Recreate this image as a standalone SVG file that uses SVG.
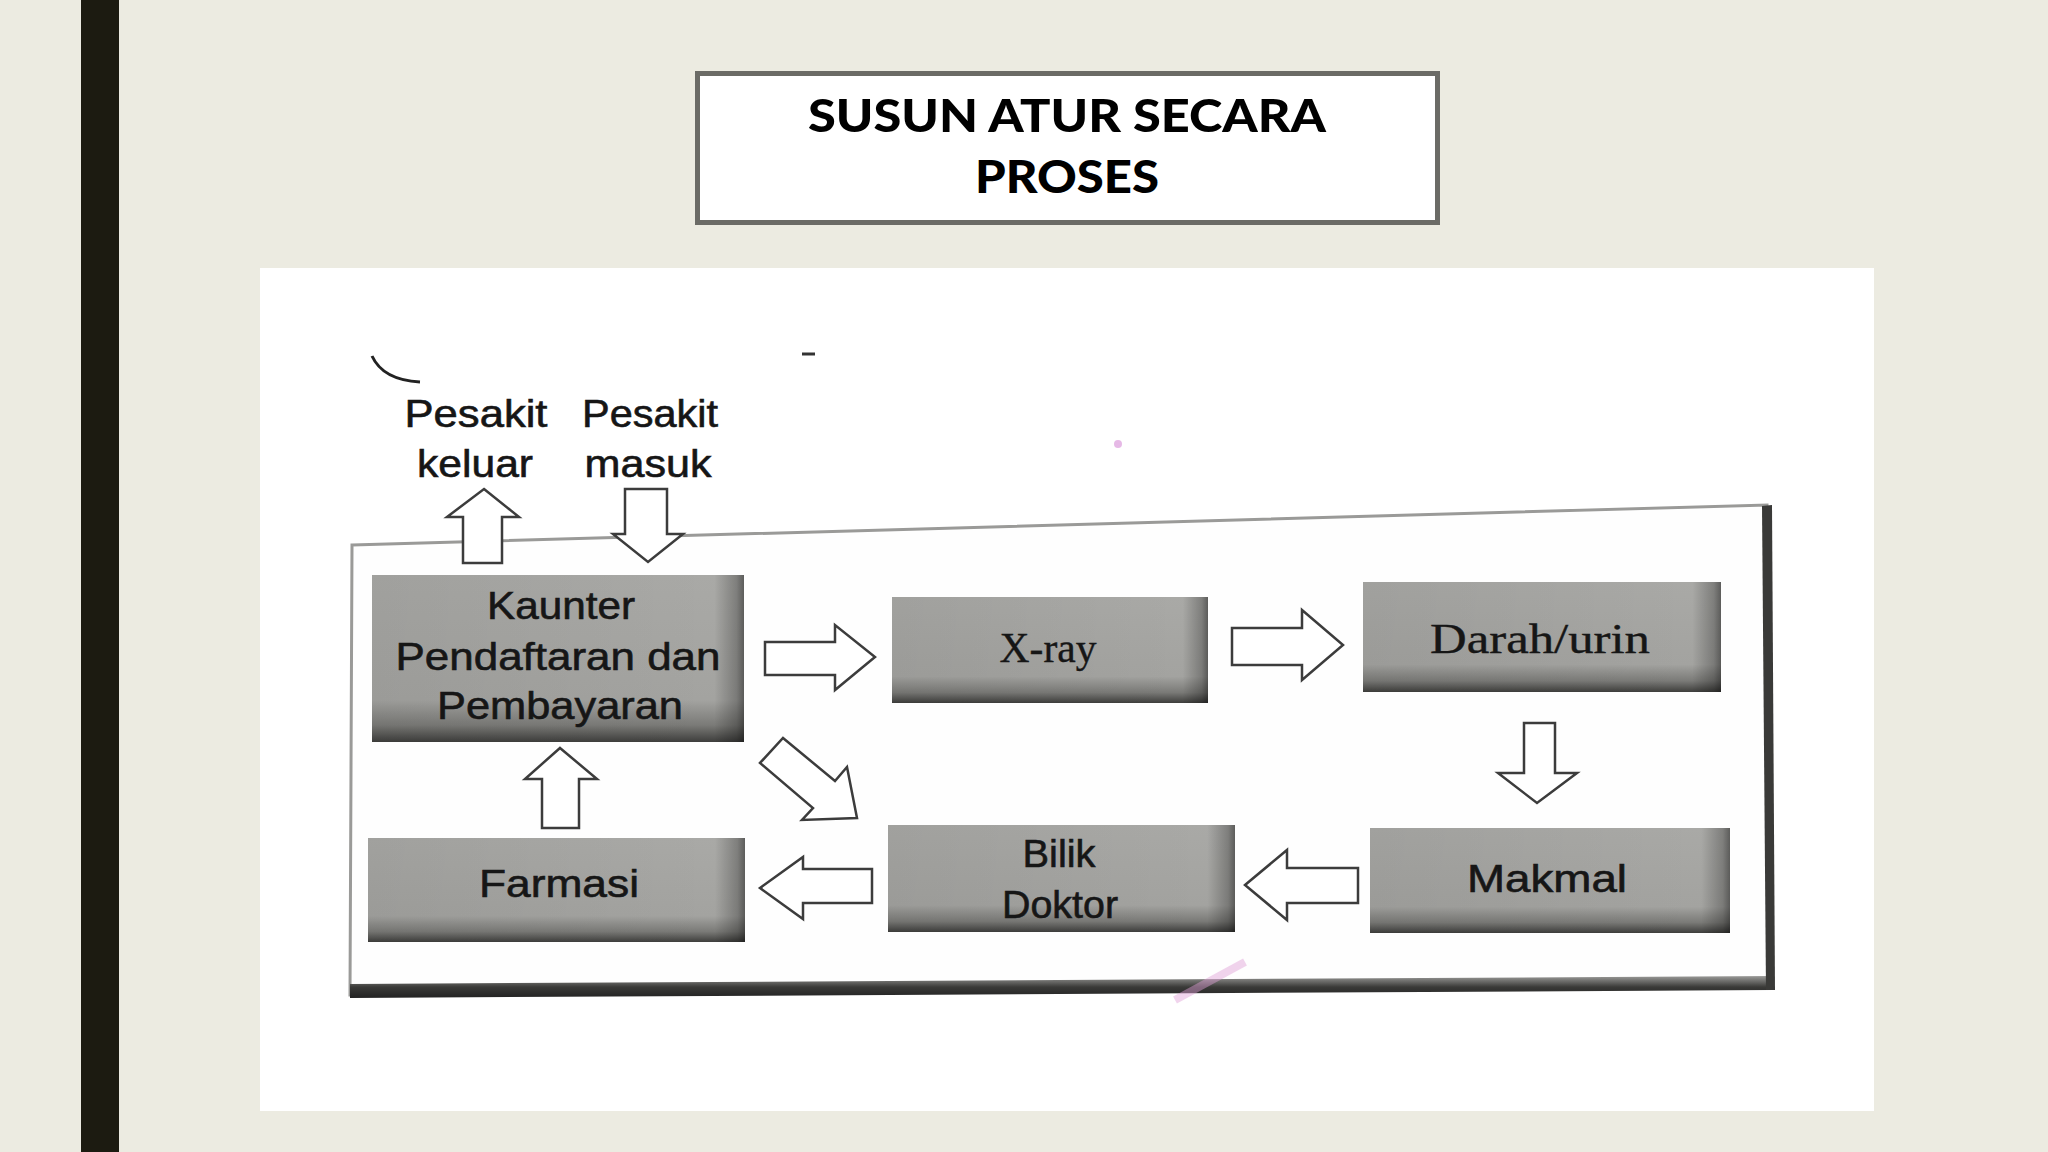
<svg xmlns="http://www.w3.org/2000/svg" width="2048" height="1152" viewBox="0 0 2048 1152">
<defs>
<linearGradient id="gv" x1="0" y1="0" x2="0" y2="1">
<stop offset="0" stop-color="#a9a9a6"/>
<stop offset="0.75" stop-color="#a3a3a0"/>
<stop offset="0.9" stop-color="#7a7a77"/>
<stop offset="1" stop-color="#3e3e3c"/>
</linearGradient>
<linearGradient id="gh" x1="0" y1="0" x2="1" y2="0">
<stop offset="0" stop-color="#000" stop-opacity="0.05"/>
<stop offset="0.92" stop-color="#000" stop-opacity="0"/>
<stop offset="0.98" stop-color="#000" stop-opacity="0.25"/>
<stop offset="1" stop-color="#000" stop-opacity="0.45"/>
</linearGradient>
<linearGradient id="gb" x1="0" y1="0" x2="0" y2="1">
<stop offset="0" stop-color="#9a9a98"/>
<stop offset="0.5" stop-color="#3a3a38"/>
<stop offset="1" stop-color="#222"/>
</linearGradient>
</defs>
<style>
.lbl{font-family:"Liberation Sans",Arial,sans-serif;font-size:38px;fill:#161616;stroke:#161616;stroke-width:0.6;text-anchor:middle}
.ser{font-family:"Liberation Serif","Times New Roman",serif;font-size:43px;fill:#161616;stroke:#161616;stroke-width:0.4;text-anchor:middle}
.box{fill:url(#gv)}
.shade{fill:url(#gh)}
.arr{fill:#ffffff;stroke:#3c3c3c;stroke-width:2.5;stroke-linejoin:miter}
.ttl{font-family:Lato,"Open Sans","Liberation Sans",sans-serif;font-weight:900;font-size:46px;fill:#000;text-anchor:middle}
</style>
<rect x="0" y="0" width="2048" height="1152" fill="#ecebe1"/>
<rect x="81" y="0" width="38" height="1152" fill="#1c1b11"/>
<g id="title">
<rect x="697.5" y="73.5" width="740" height="149" fill="#ffffff" stroke="#6b6b66" stroke-width="5"/>
<text class="ttl" x="1067" y="132" textLength="518" lengthAdjust="spacingAndGlyphs">SUSUN ATUR SECARA</text>
<text class="ttl" x="1067" y="193" textLength="184" lengthAdjust="spacingAndGlyphs">PROSES</text>
</g>
<rect x="260" y="268" width="1614" height="843" fill="#ffffff"/>
<g id="frame">
<polygon points="352,545 1767,505 1772,988 350,995" fill="#fefefe" stroke="#9a9a98" stroke-width="3"/>
<polygon points="350,984 1772,976 1772,990 350,998" fill="url(#gb)"/>
<polygon points="1762,506 1772,505 1775,990 1766,990" fill="#3a3a38"/>
<path d="M372,356 Q383,380 420,382" fill="none" stroke="#222" stroke-width="3"/>
<line x1="802" y1="354" x2="815" y2="354" stroke="#333" stroke-width="3"/>
<circle cx="1118" cy="444" r="4" fill="#d58ad6" opacity="0.6"/>
<path d="M1175,1000 L1245,962" stroke="#e0a0d8" stroke-width="8" opacity="0.45" fill="none"/>
</g>
<g id="connectors">
<polygon class="arr" points="484,489 519,517 502,517 502,563 463,563 463,517 447,517"/>
<polygon class="arr" points="625,489 667,489 667,534 683,534 648,562 613,534 625,534"/>
<polygon class="arr" points="765,642 835,642 835,625 875,657 835,690 835,675 765,675"/>
<polygon class="arr" points="1232,628 1302,628 1302,610 1343,645 1302,680 1302,665 1232,665"/>
<polygon class="arr" points="1524,723 1555,723 1555,773 1577,773 1537,803 1498,773 1524,773"/>
<polygon class="arr" points="1245,885 1287,850 1287,868 1358,868 1358,903 1287,903 1287,920"/>
<polygon class="arr" points="760,888 803,857 803,869 872,869 872,903 803,903 803,919"/>
<polygon class="arr" points="560,748 597,779 579,779 579,828 542,828 542,779 525,779"/>
<polygon class="arr" points="783,738 835,781 847,767 857,818 802,820 813,808 760,763"/>
</g>
<g id="labels-top">
<text class="lbl" x="476" y="427" font-size="36" textLength="143" lengthAdjust="spacingAndGlyphs">Pesakit</text>
<text class="lbl" x="475" y="477" font-size="36" textLength="116" lengthAdjust="spacingAndGlyphs">keluar</text>
<text class="lbl" x="650" y="427" font-size="36" textLength="136" lengthAdjust="spacingAndGlyphs">Pesakit</text>
<text class="lbl" x="648" y="477" font-size="36" textLength="127" lengthAdjust="spacingAndGlyphs">masuk</text>
</g>
<g id="node-kaunter">
<rect class="box" x="372" y="575" width="372" height="167"/>
<rect class="shade" x="372" y="575" width="372" height="167"/>
<text class="lbl" x="561" y="619" textLength="148" lengthAdjust="spacingAndGlyphs">Kaunter</text>
<text class="lbl" x="558" y="670" textLength="325" lengthAdjust="spacingAndGlyphs">Pendaftaran dan</text>
<text class="lbl" x="560" y="719" textLength="246" lengthAdjust="spacingAndGlyphs">Pembayaran</text>
</g>
<g id="node-xray">
<rect class="box" x="892" y="597" width="316" height="106"/>
<rect class="shade" x="892" y="597" width="316" height="106"/>
<text class="ser" x="1048" y="662" textLength="97" lengthAdjust="spacingAndGlyphs">X-ray</text>
</g>
<g id="node-darah">
<rect class="box" x="1363" y="582" width="358" height="110"/>
<rect class="shade" x="1363" y="582" width="358" height="110"/>
<text class="ser" x="1540" y="653" textLength="220" lengthAdjust="spacingAndGlyphs">Darah/urin</text>
</g>
<g id="node-makmal">
<rect class="box" x="1370" y="828" width="360" height="105"/>
<rect class="shade" x="1370" y="828" width="360" height="105"/>
<text class="lbl" x="1547" y="892" font-size="42" textLength="160" lengthAdjust="spacingAndGlyphs">Makmal</text>
</g>
<g id="node-bilik">
<rect class="box" x="888" y="825" width="347" height="107"/>
<rect class="shade" x="888" y="825" width="347" height="107"/>
<text class="lbl" x="1059" y="867" textLength="73" lengthAdjust="spacingAndGlyphs">Bilik</text>
<text class="lbl" x="1060" y="918" textLength="116" lengthAdjust="spacingAndGlyphs">Doktor</text>
</g>
<g id="node-farmasi">
<rect class="box" x="368" y="838" width="377" height="104"/>
<rect class="shade" x="368" y="838" width="377" height="104"/>
<text class="lbl" x="559" y="897" font-size="40" textLength="160" lengthAdjust="spacingAndGlyphs">Farmasi</text>
</g>
</svg>
